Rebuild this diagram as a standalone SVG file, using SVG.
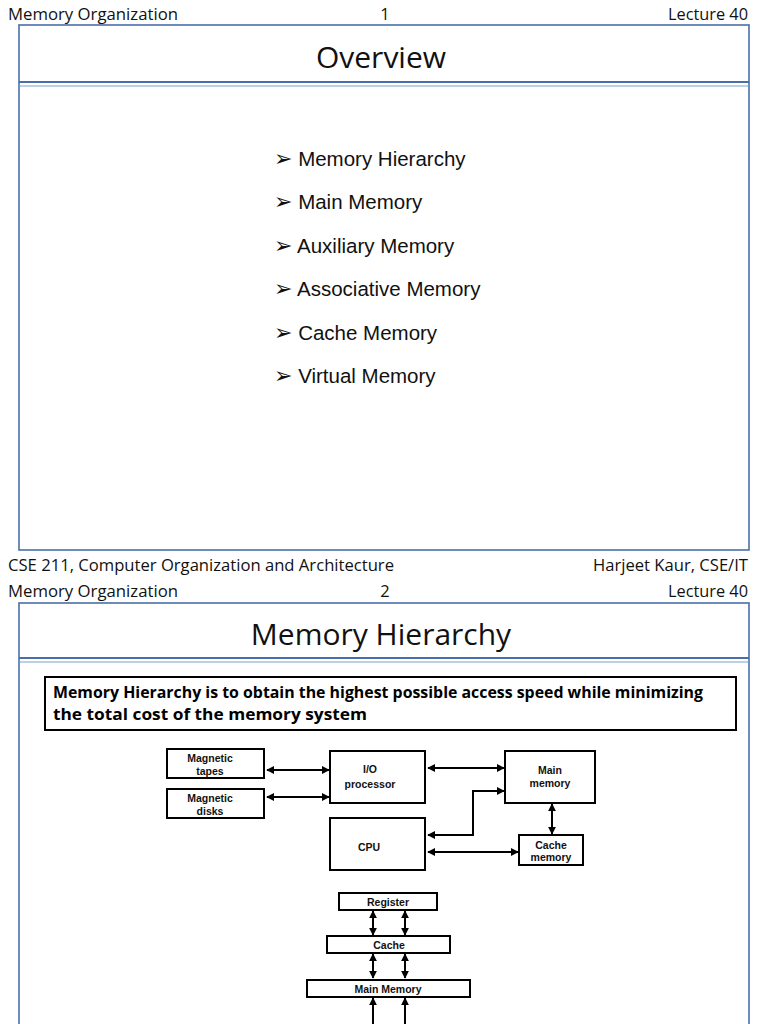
<svg xmlns="http://www.w3.org/2000/svg" width="768" height="1024" viewBox="0 0 768 1024">
<style>
.hdr{font-family:"Open Sans","Liberation Sans",sans-serif;font-size:16.5px;fill:#111}
.title{font-family:"Open Sans","Liberation Sans",sans-serif;font-size:30px;fill:#111;text-anchor:middle}
.frame{fill:#fff;stroke:#4a6ea9;stroke-width:1.6}
.div1{stroke:#4a6ea9;stroke-width:2}
.div2{stroke:#7f9dcc;stroke-width:1.2}
.bul{font-family:"Liberation Sans","DejaVu Sans",sans-serif;font-size:20.5px;fill:#111}
.arw{font-family:"DejaVu Sans",sans-serif;font-size:22px;font-weight:bold}
.box{fill:#fff;stroke:#000;stroke-width:2}
.lbl{font-family:"Liberation Sans",sans-serif;font-size:10.5px;font-weight:bold;fill:#111;text-anchor:middle}
.note{font-family:"Open Sans","Liberation Sans",sans-serif;font-size:16px;font-weight:bold;fill:#000}
.con{fill:none;stroke:#000;stroke-width:2}
</style>
<defs>
<marker id="ah" viewBox="0 0 10 10" refX="9" refY="5" markerWidth="4" markerHeight="4" orient="auto-start-reverse" markerUnits="strokeWidth">
<path d="M0,0 L10,5 L0,10 z" fill="#000"/>
</marker>
</defs>
<rect width="768" height="1024" fill="#fff"/>

<!-- Page headers / footers -->
<g id="page1-header">
<text class="hdr" x="8" y="20" textLength="170" lengthAdjust="spacingAndGlyphs">Memory Organization</text>
<text class="hdr" x="385" y="20" text-anchor="middle">1</text>
<text class="hdr" x="748" y="20" text-anchor="end" textLength="80" lengthAdjust="spacingAndGlyphs">Lecture 40</text>
</g>

<!-- Slide 1 -->
<g id="slide1">
<rect class="frame" x="19" y="25" width="730" height="525"/>
<line class="div1" x1="19" y1="82" x2="749" y2="82"/>
<line class="div2" x1="19" y1="86" x2="749" y2="86"/>
<text class="title" x="381" y="68">Overview</text>
</g>
<g id="bullets">
<text class="bul" x="274" y="166"><tspan class="arw">➢</tspan> Memory Hierarchy</text>
<text class="bul" x="274" y="209"><tspan class="arw">➢</tspan> Main Memory</text>
<text class="bul" x="274" y="253"><tspan class="arw">➢</tspan> Auxiliary Memory</text>
<text class="bul" x="274" y="296"><tspan class="arw">➢</tspan> Associative Memory</text>
<text class="bul" x="274" y="340"><tspan class="arw">➢</tspan> Cache Memory</text>
<text class="bul" x="274" y="383"><tspan class="arw">➢</tspan> Virtual Memory</text>
</g>

<g id="page1-footer">
<text class="hdr" x="8" y="571" textLength="386" lengthAdjust="spacingAndGlyphs">CSE 211, Computer Organization and Architecture</text>
<text class="hdr" x="748" y="571" text-anchor="end" textLength="155" lengthAdjust="spacingAndGlyphs">Harjeet Kaur, CSE/IT</text>
</g>
<g id="page2-header">
<text class="hdr" x="8" y="597" textLength="170" lengthAdjust="spacingAndGlyphs">Memory Organization</text>
<text class="hdr" x="385" y="597" text-anchor="middle">2</text>
<text class="hdr" x="748" y="597" text-anchor="end" textLength="80" lengthAdjust="spacingAndGlyphs">Lecture 40</text>
</g>

<!-- Slide 2 -->
<g id="slide2">
<rect class="frame" x="19" y="603" width="730" height="430"/>
<line class="div1" x1="19" y1="658" x2="749" y2="658"/>
<line class="div2" x1="19" y1="662" x2="749" y2="662"/>
<text class="title" x="381" y="645">Memory Hierarchy</text>
</g>

<g id="definition">
<rect x="45" y="677" width="691" height="53" fill="#fff" stroke="#000" stroke-width="2"/>
<text class="note" x="53" y="698" textLength="650" lengthAdjust="spacingAndGlyphs">Memory Hierarchy is to obtain the highest possible access speed while minimizing</text>
<text class="note" x="53" y="720" textLength="314" lengthAdjust="spacingAndGlyphs">the total cost of the memory system</text>
</g>

<!-- Connectors -->
<g id="connectors">
<line class="con" x1="267" y1="770" x2="329" y2="770" marker-start="url(#ah)" marker-end="url(#ah)"/>
<line class="con" x1="267" y1="797" x2="329" y2="797" marker-start="url(#ah)" marker-end="url(#ah)"/>
<line class="con" x1="428" y1="768" x2="504" y2="768" marker-start="url(#ah)" marker-end="url(#ah)"/>
<polyline class="con" points="428,835 473,835 473,791 504,791" marker-start="url(#ah)" marker-end="url(#ah)"/>
<line class="con" x1="428" y1="852" x2="518" y2="852" marker-start="url(#ah)" marker-end="url(#ah)"/>
<line class="con" x1="552" y1="804" x2="552" y2="834" marker-start="url(#ah)" marker-end="url(#ah)"/>
<line class="con" x1="373" y1="911" x2="373" y2="935" marker-start="url(#ah)" marker-end="url(#ah)"/>
<line class="con" x1="405" y1="911" x2="405" y2="935" marker-start="url(#ah)" marker-end="url(#ah)"/>
<line class="con" x1="373" y1="954" x2="373" y2="978" marker-start="url(#ah)" marker-end="url(#ah)"/>
<line class="con" x1="405" y1="954" x2="405" y2="978" marker-start="url(#ah)" marker-end="url(#ah)"/>
<line class="con" x1="373" y1="998" x2="373" y2="1030" marker-start="url(#ah)"/>
<line class="con" x1="405" y1="998" x2="405" y2="1030" marker-start="url(#ah)"/>
</g>

<g id="tapes">
<rect class="box" x="167" y="749" width="97" height="29" stroke-width="1.6"/>
<text class="lbl" x="210" y="762">Magnetic</text>
<text class="lbl" x="210" y="775">tapes</text>
</g>
<g id="disks">
<rect class="box" x="167" y="789" width="97" height="29" stroke-width="1.6"/>
<text class="lbl" x="210" y="802">Magnetic</text>
<text class="lbl" x="210" y="815">disks</text>
</g>
<g id="io">
<rect class="box" x="330" y="751" width="95" height="52"/>
<text class="lbl" x="370" y="773">I/O</text>
<text class="lbl" x="370" y="788">processor</text>
</g>
<g id="cpu">
<rect class="box" x="330" y="818" width="95" height="52"/>
<text class="lbl" x="369" y="851">CPU</text>
</g>
<g id="mainmem">
<rect class="box" x="505" y="751" width="90" height="52"/>
<text class="lbl" x="550" y="774">Main</text>
<text class="lbl" x="550" y="787">memory</text>
</g>
<g id="cachemem">
<rect class="box" x="519" y="835" width="64" height="30"/>
<text class="lbl" x="551" y="849">Cache</text>
<text class="lbl" x="551" y="861">memory</text>
</g>
<g id="register">
<rect class="box" x="339" y="893" width="98" height="17" stroke-width="1.6"/>
<text class="lbl" x="388" y="906">Register</text>
</g>
<g id="cache">
<rect class="box" x="327" y="936" width="123" height="17" stroke-width="1.6"/>
<text class="lbl" x="389" y="949">Cache</text>
</g>
<g id="mainmemory">
<rect class="box" x="307" y="980" width="163" height="17" stroke-width="1.6"/>
<text class="lbl" x="388" y="993">Main Memory</text>
</g>
</svg>
